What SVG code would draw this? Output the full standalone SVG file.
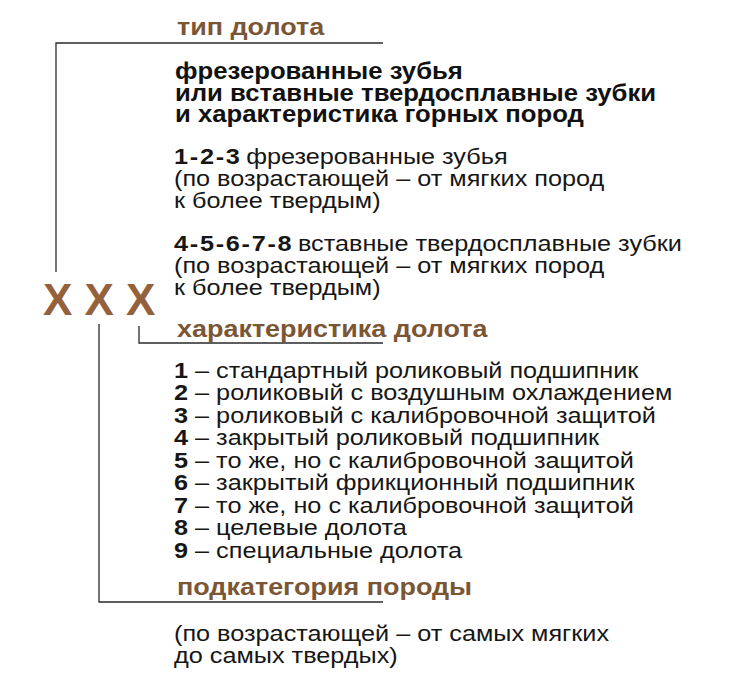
<svg xmlns="http://www.w3.org/2000/svg" width="732" height="682" viewBox="0 0 732 682">
<style>
.t{font-family:"Liberation Sans",Arial,sans-serif;font-size:22px;fill:#161616}
.b{font-family:"Liberation Sans",Arial,sans-serif;font-size:23px;font-weight:bold;fill:#111}
.lab{font-family:"Liberation Sans",Arial,sans-serif;font-size:24.5px;font-weight:bold;fill:#7b5634}
.x{font-family:"Liberation Sans",Arial,sans-serif;font-size:44px;font-weight:bold;fill:#93613b}
.n{font-weight:bold}
.ns{font-weight:bold;letter-spacing:1.5px}
.c{fill:none;stroke:#2a2a2a;stroke-width:1.3}
</style>
<rect width="732" height="682" fill="#ffffff"/>
<g id="connectors">
<polyline class="c" points="56,272 56,43 383,43"/>
<polyline class="c" points="99,324 99,602 383,602"/>
<polyline class="c" points="139,326 139,343 383,343"/>
</g>
<g id="xxx">
<text class="x" x="43" y="315">X</text>
<text class="x" x="84.5" y="315">X</text>
<text class="x" x="126" y="315">X</text>
</g>
<g id="tip">
<g transform="matrix(1.1,0,0,1,-17.7,0)">
<text class="lab" x="177" y="35">тип долота</text>
</g>
<g transform="matrix(1.118,0,0,1,-20.65,0)">
<text class="b" x="175" y="79.5">фрезерованные зубья</text>
<text class="b" x="175" y="101">или вставные твердосплавные зубки</text>
<text class="b" x="175" y="122.5">и характеристика горных пород</text>
</g>
<g transform="matrix(1.148,0,0,1,-25.75,0)">
<text class="t" x="174" y="164"><tspan class="ns">1-2-3</tspan><tspan dx="4">фрезерованные зубья</tspan></text>
<text class="t" x="174" y="186">(по возрастающей – от мягких пород</text>
<text class="t" x="174" y="208">к более твердым)</text>
<text class="t" x="174" y="251"><tspan class="ns">4-5-6-7-8</tspan><tspan dx="4">вставные твердосплавные зубки</tspan></text>
<text class="t" x="174" y="273">(по возрастающей – от мягких пород</text>
<text class="t" x="174" y="295">к более твердым)</text>
</g>
</g>
<g id="harakteristika">
<g transform="matrix(1.1,0,0,1,-17.7,0)">
<text class="lab" x="177" y="337">характеристика долота</text>
</g>
<g transform="matrix(1.148,0,0,1,-25.75,0)">
<text class="t" x="174" y="378"><tspan class="n">1</tspan> – стандартный роликовый подшипник</text>
<text class="t" x="174" y="400.5"><tspan class="n">2</tspan> – роликовый с воздушным охлаждением</text>
<text class="t" x="174" y="423"><tspan class="n">3</tspan> – роликовый с калибровочной защитой</text>
<text class="t" x="174" y="445.5"><tspan class="n">4</tspan> – закрытый роликовый подшипник</text>
<text class="t" x="174" y="468"><tspan class="n">5</tspan> – то же, но с калибровочной защитой</text>
<text class="t" x="174" y="490.5"><tspan class="n">6</tspan> – закрытый фрикционный подшипник</text>
<text class="t" x="174" y="513"><tspan class="n">7</tspan> – то же, но с калибровочной защитой</text>
<text class="t" x="174" y="535.5"><tspan class="n">8</tspan> – целевые долота</text>
<text class="t" x="174" y="558"><tspan class="n">9</tspan> – специальные долота</text>
</g>
</g>
<g id="podkategoriya">
<g transform="matrix(1.1,0,0,1,-17.7,0)">
<text class="lab" x="177" y="595">подкатегория породы</text>
</g>
<g transform="matrix(1.148,0,0,1,-25.75,0)">
<text class="t" x="174" y="641">(по возрастающей – от самых мягких</text>
<text class="t" x="174" y="663">до самых твердых)</text>
</g>
</g>
</svg>
